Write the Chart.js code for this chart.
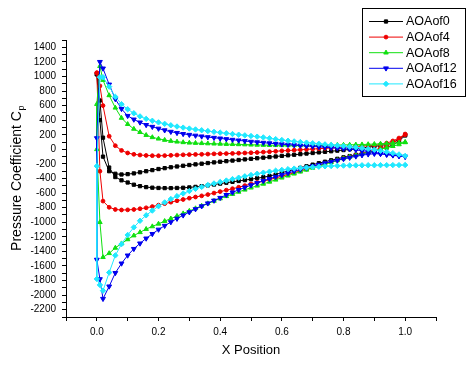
<!DOCTYPE html>
<html>
<head>
<meta charset="utf-8">
<script src="https://cdn.jsdelivr.net/npm/chart.js@4.4.1/dist/chart.umd.min.js"></script>
<style>
  html, body { margin: 0; padding: 0; background: #fff; }
</style>
</head>
<body>
<canvas id="cp" width="474" height="366"></canvas>
<script>
// chord stations shared by every curve
const xPos = [0, 0.01, 0.02, 0.04, 0.06, 0.08, 0.10, 0.12, 0.14, 0.16, 0.18, 0.20,
  0.22, 0.24, 0.26, 0.28, 0.30, 0.32, 0.34, 0.36, 0.38, 0.40,
  0.42, 0.44, 0.46, 0.48, 0.50, 0.52, 0.54, 0.56, 0.58, 0.60,
  0.62, 0.64, 0.66, 0.68, 0.70, 0.72, 0.74, 0.76, 0.78, 0.80,
  0.82, 0.84, 0.86, 0.88, 0.90, 0.92, 0.94, 0.96, 0.98, 1.00];

const seriesNames = ['AOAof0', 'AOAof4', 'AOAof8', 'AOAof12', 'AOAof16'];

// upper branch = higher values, lower branch = lower values
const aoa0Upper = [1030, 400, -100, -300, -335, -345, -340, -330, -315, -300, -285, -270,
  -258, -246, -235, -225, -215, -206, -197, -188, -179, -170,
  -162, -154, -146, -138, -130, -122, -114, -106, -98, -90,
  -82, -74, -66, -58, -50, -42, -34, -26, -18, -10,
  0, 10, 20, 30, 40, 52, 68, 95, 140, 200];
const aoa0Lower = [1030, 670, 160, -250, -380, -425, -455, -485, -505, -518, -526, -530,
  -532, -532, -530, -527, -522, -515, -505, -495, -483, -470,
  -458, -446, -434, -422, -410, -396, -382, -366, -345, -320,
  -298, -276, -254, -232, -210, -190, -170, -150, -130, -110,
  -92, -74, -56, -38, -20, 0, 25, 60, 115, 190];

const aoa4Upper = [1050, 870, 600, 180, 50, -15, -50, -68, -78, -84, -87, -88,
  -86, -82, -78, -75, -72, -70, -68, -65, -62, -60,
  -58, -56, -53, -50, -47, -43, -38, -33, -27, -20,
  -16, -11, -6, -1, 4, 9, 14, 19, 24, 30,
  35, 40, 45, 50, 56, 65, 85, 115, 155, 210];
const aoa4Lower = [1050, -300, -710, -795, -825, -832, -830, -825, -815, -802, -785, -765,
  -745, -725, -705, -688, -670, -654, -638, -620, -600, -580,
  -560, -540, -520, -498, -475, -455, -435, -414, -392, -370,
  -345, -320, -295, -270, -245, -221, -197, -173, -149, -125,
  -102, -79, -56, -33, -10, 15, 45, 85, 135, 200];

const aoa8Upper = [620, 1140, 950, 740, 570, 430, 345, 280, 235, 195, 165, 145,
  128, 114, 104, 96, 90, 86, 83, 80, 77, 75,
  72, 70, 68, 66, 63, 61, 59, 57, 56, 55,
  55, 55, 55, 55, 55, 56, 57, 58, 59, 60,
  62, 64, 66, 69, 72, 76, 80, 85, 92, 100];
const aoa8Lower = [0, -1000, -1480, -1426, -1352, -1292, -1236, -1183, -1138, -1094, -1058, -1022,
  -985, -950, -915, -880, -845, -810, -776, -742, -708, -675,
  -644, -614, -584, -555, -527, -500, -474, -446, -418, -390,
  -362, -335, -308, -281, -254, -228, -202, -176, -151, -126,
  -104, -82, -60, -39, -18, 2, 22, 43, 67, 95];

const aoa12Upper = [154, 1200, 1110, 890, 690, 555, 460, 410, 370, 335, 310, 285,
  262, 242, 226, 212, 200, 189, 178, 168, 159, 150,
  141, 132, 123, 114, 105, 98, 91, 84, 77, 70,
  64, 58, 52, 46, 40, 34, 28, 22, 16, 10,
  2, -8, -18, -30, -45, -60, -72, -82, -92, -100];
const aoa12Lower = [-1513, -1780, -2050, -1880, -1695, -1565, -1455, -1365, -1290, -1222, -1160, -1100,
  -1048, -998, -950, -905, -862, -820, -780, -740, -702, -665,
  -625, -590, -556, -523, -491, -461, -432, -404, -377, -350,
  -325, -300, -277, -254, -232, -211, -190, -170, -151, -132,
  -114, -96, -80, -68, -60, -62, -70, -80, -90, -100];

const aoa16Upper = [-230, 990, 990, 860, 720, 620, 550, 495, 452, 418, 392, 370,
  350, 330, 313, 298, 285, 273, 262, 251, 240, 230,
  220, 210, 201, 192, 183, 174, 164, 152, 140, 128,
  118, 109, 100, 92, 84, 76, 68, 60, 52, 44,
  36, 27, 17, 6, -6, -20, -35, -52, -70, -90];
const aoa16Lower = [-1778, -1860, -1939, -1690, -1455, -1300, -1175, -1070, -980, -905, -840, -780,
  -728, -682, -642, -605, -572, -542, -515, -490, -468, -448,
  -428, -408, -389, -370, -352, -335, -320, -306, -293, -282,
  -272, -264, -257, -250, -244, -238, -233, -229, -226, -223,
  -221, -220, -219, -218, -218, -217, -217, -216, -216, -215];

const yTickStep = 100;   // labels every 200
const xTickStep = 0.1;   // labels every 0.2

const colors = ['#000000', '#ee0000', '#10e010', '#0000ee', '#20e8ff'];
const markers = ['rect', 'circle', 'triangle', 'triangle', 'rectRot'];
const markerTurn = [0, 0, 0, 180, 0];
const markerSize = [2.3, 1.9, 2.6, 2.8, 2.7];

const FONT = '"Liberation Sans", Arial, sans-serif';

// walk trailing edge -> leading edge on one side, then back on the other
function closedLoop(upper, lower) {
    const pts = [];
    for (let i = upper.length - 1; i >= 0; i--) pts.push({ x: xPos[i], y: upper[i] });
    lower.forEach((v, i) => pts.push({ x: xPos[i], y: v }));
    return pts;
}

const branches = [
    [aoa0Upper, aoa0Lower],
    [aoa4Upper, aoa4Lower],
    [aoa8Upper, aoa8Lower],
    [aoa12Upper, aoa12Lower],
    [aoa16Upper, aoa16Lower]
];

const datasets = branches.map((b, i) => ({
    label: seriesNames[i],
    data: closedLoop(b[0], b[1]),
    showLine: true,
    borderColor: colors[i],
    backgroundColor: colors[i],
    borderWidth: 1,
    pointStyle: markers[i],
    pointRotation: markerTurn[i],
    pointRadius: markerSize[i],
    pointBorderWidth: 1,
    pointBackgroundColor: colors[i],
    pointBorderColor: colors[i],
    tension: 0,
    order: 4 - i
}));

// axis titles + boxed legend
const decor = {
    id: 'decor',
    afterDraw(chart) {
        const ctx = chart.ctx;
        const area = chart.chartArea;
        ctx.save();
        ctx.fillStyle = '#000';

        ctx.font = '13px ' + FONT;
        ctx.textAlign = 'center';
        ctx.textBaseline = 'middle';
        ctx.fillText('X Position', (area.left + area.right) / 2, 350);

        ctx.save();
        ctx.translate(16, (area.top + area.bottom) / 2);
        ctx.rotate(-Math.PI / 2);
        const main = 'Pressure Coefficient C';
        ctx.font = '14px ' + FONT;
        const w1 = ctx.measureText(main).width;
        ctx.font = '9px ' + FONT;
        const w2 = ctx.measureText('p').width;
        const x0 = -(w1 + w2) / 2;
        ctx.textAlign = 'left';
        ctx.textBaseline = 'alphabetic';
        ctx.font = '14px ' + FONT;
        ctx.fillText(main, x0, 5);
        ctx.font = '9px ' + FONT;
        ctx.fillText('p', x0 + w1 + 0.5, 8);
        ctx.restore();

        // legend
        ctx.strokeStyle = '#000';
        ctx.lineWidth = 1;
        ctx.strokeRect(362.5, 8.5, 103, 88);
        chart.data.datasets.forEach((ds, i) => {
            const y = 21.5 + i * 15.6;
            ctx.strokeStyle = ds.borderColor;
            ctx.beginPath();
            ctx.moveTo(369, y);
            ctx.lineTo(403, y);
            ctx.stroke();
            ctx.fillStyle = ds.pointBackgroundColor;
            Chart.helpers.drawPoint(ctx, {
                pointStyle: ds.pointStyle,
                radius: ds.pointRadius,
                rotation: ds.pointRotation,
                borderWidth: 1
            }, 386, y);
            ctx.fillStyle = '#000';
            ctx.font = '12.5px ' + FONT;
            ctx.textAlign = 'left';
            ctx.textBaseline = 'middle';
            ctx.fillText(ds.label, 406, y + 0.5);
        });
        ctx.restore();
    }
};

new Chart(document.getElementById('cp'), {
    type: 'scatter',
    data: { datasets },
    options: {
        responsive: false,
        animation: false,
        layout: { padding: { top: 40, right: 38, left: 0, bottom: 0 } },
        plugins: { legend: { display: false }, tooltip: { enabled: false } },
        scales: {
            x: {
                type: 'linear',
                min: -0.1,
                max: 1.1,
                afterFit: s => { s.height = 49; },
                border: { display: true, color: '#000', width: 1 },
                grid: { display: true, drawOnChartArea: false, drawTicks: true, tickLength: 4, color: '#000' },
                ticks: {
                    stepSize: xTickStep,
                    autoSkip: false,
                    maxRotation: 0,
                    padding: 5,
                    color: '#000',
                    font: { family: FONT, size: 10 },
                    callback: v => {
                        const k = Math.round(v * 10);
                        return (k >= 0 && k <= 10 && k % 2 === 0) ? (k / 10).toFixed(1) : '';
                    }
                }
            },
            y: {
                type: 'linear',
                min: -2300,
                max: 1500,
                afterFit: s => { s.width = 66; },
                border: { display: true, color: '#000', width: 1 },
                grid: { display: true, drawOnChartArea: false, drawTicks: true, tickLength: 4, color: '#000' },
                ticks: {
                    stepSize: yTickStep,
                    autoSkip: false,
                    padding: 6,
                    color: '#000',
                    font: { family: FONT, size: 10 },
                    callback: v => (Math.round(v) % 200 === 0 ? String(Math.round(v)) : '')
                }
            }
        }
    },
    plugins: [decor]
});
</script>
</body>
</html>
